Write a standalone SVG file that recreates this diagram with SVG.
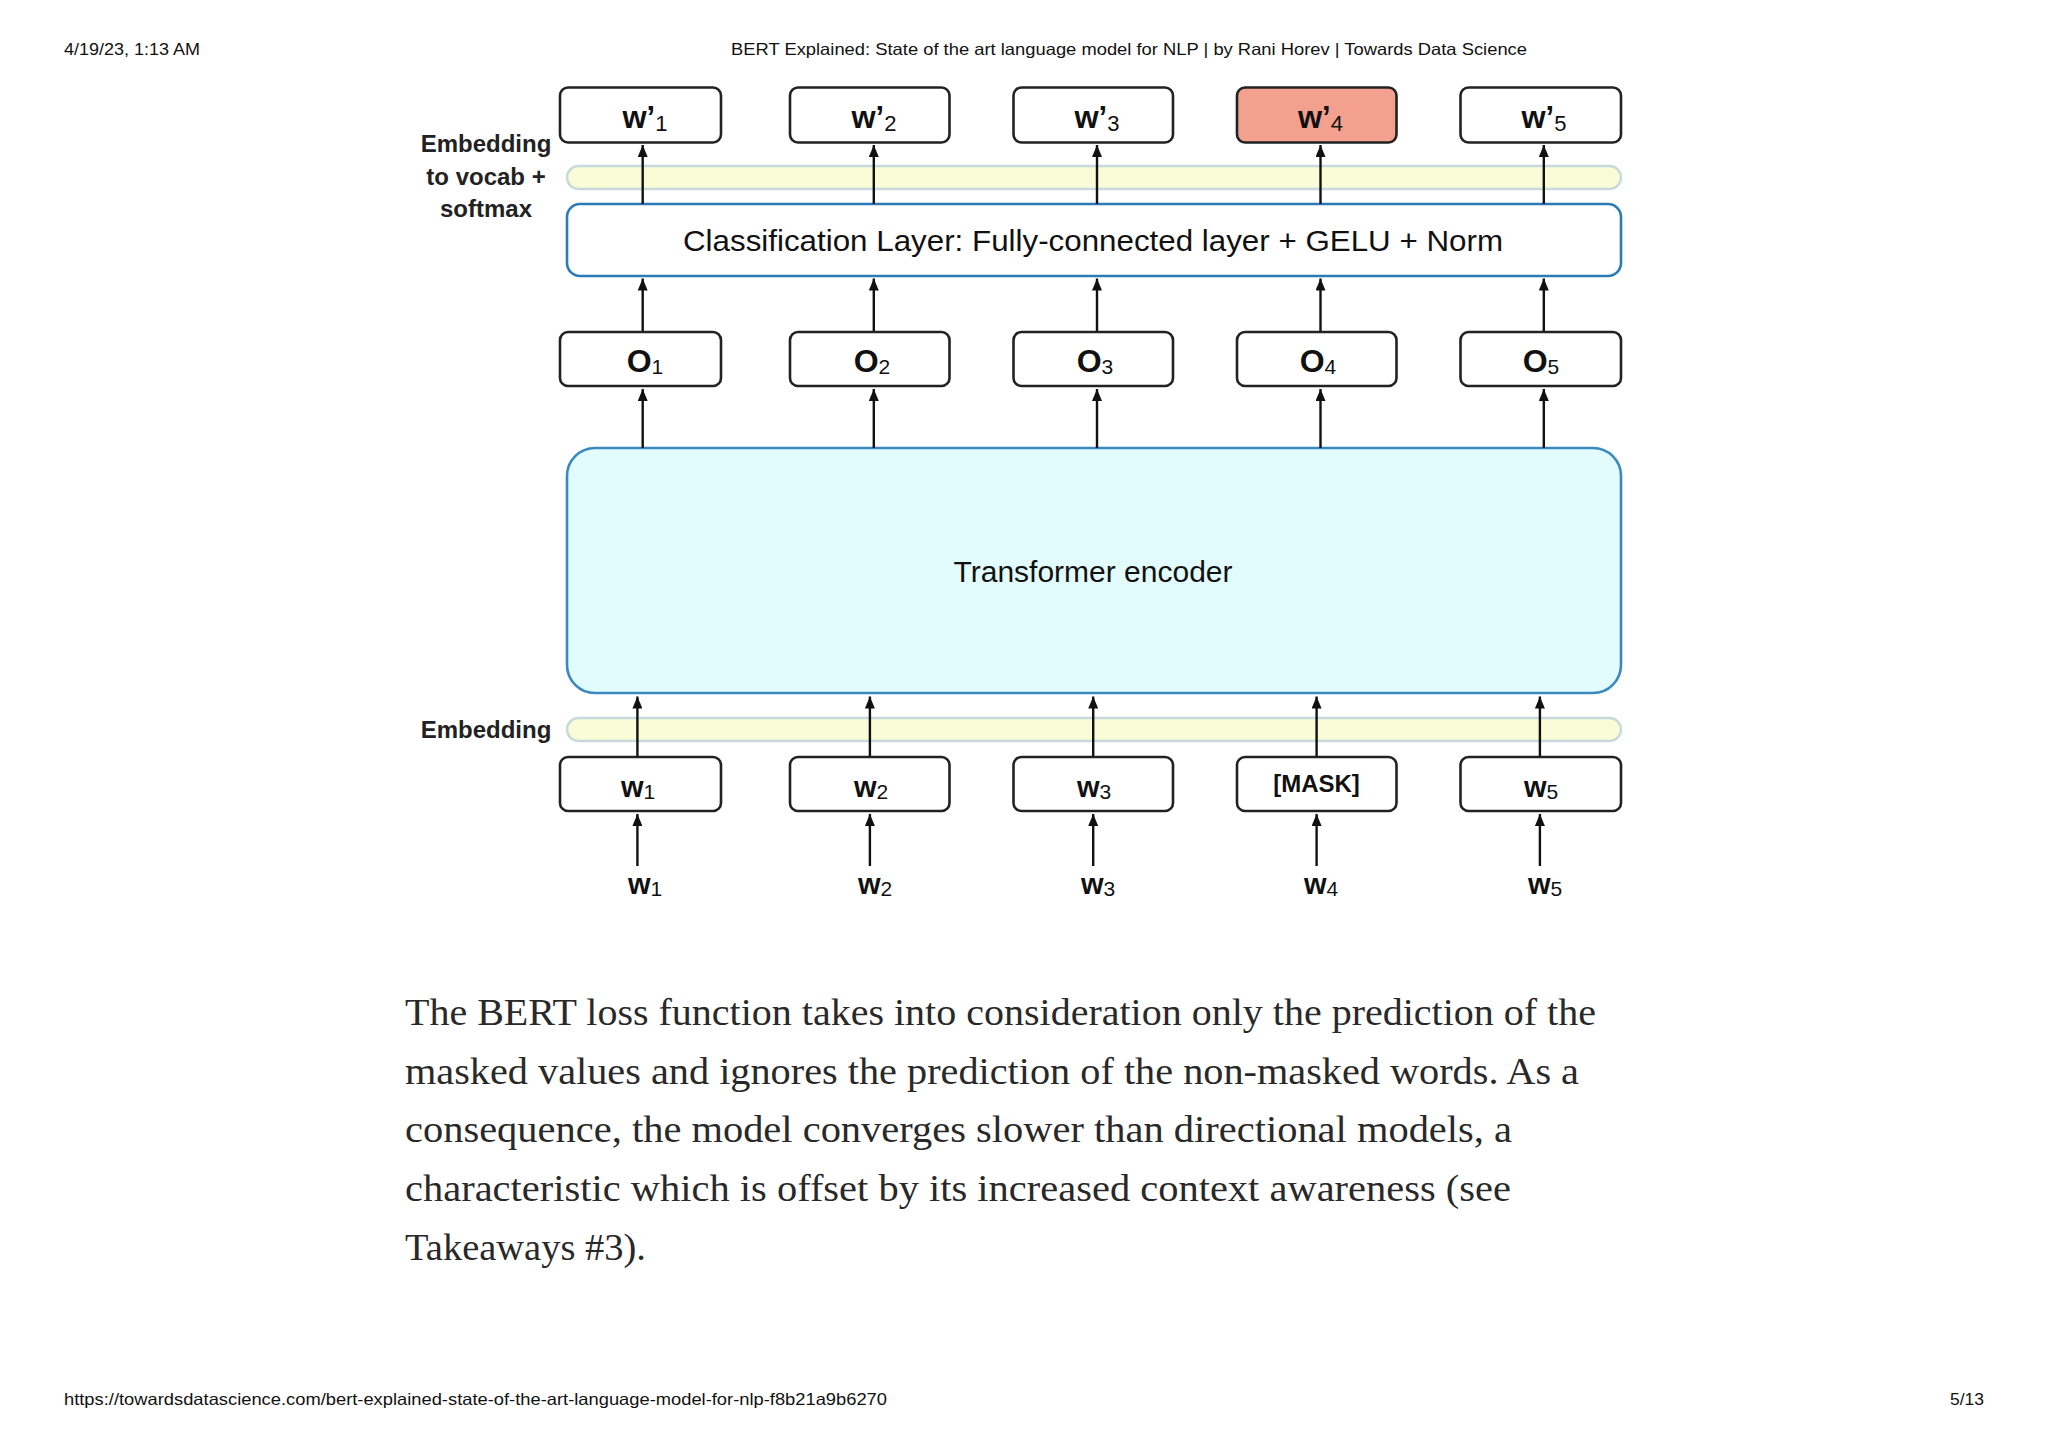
<svg xmlns="http://www.w3.org/2000/svg" width="2048" height="1447" viewBox="0 0 2048 1447">
<defs>
<style>
.hdr{font-family:"Liberation Sans",Arial,sans-serif;font-size:16.5px;fill:#111}
.box{fill:#fff;stroke:#222;stroke-width:2.6}
.lbl{font-family:"Liberation Sans",Arial,sans-serif;font-weight:bold;fill:#111;text-anchor:middle}
.sub{font-weight:normal}
.side{font-family:"Liberation Sans",Arial,sans-serif;font-weight:bold;font-size:24px;fill:#222;text-anchor:middle}
.bar{fill:#fafbd7;stroke:#c8dbdc;stroke-width:2.5}
.arr{stroke:#111;stroke-width:2.4;fill:none;marker-end:url(#ah)}
.para{font-family:"Liberation Serif","Times New Roman",serif;font-size:38.5px;fill:#292929}
</style>
<marker id="ah" viewBox="0 0 12 10" refX="12" refY="5" markerWidth="12" markerHeight="10" markerUnits="userSpaceOnUse" orient="auto">
<path d="M0,0 L12,5 L0,10 z" fill="#111"/>
</marker>
</defs>
<rect width="2048" height="1447" fill="#fff"/>

<g id="header">
<text class="hdr" x="64" y="54.5" textLength="136" lengthAdjust="spacingAndGlyphs">4/19/23, 1:13 AM</text>
<text class="hdr" x="731" y="54.5" textLength="796" lengthAdjust="spacingAndGlyphs">BERT Explained: State of the art language model for NLP | by Rani Horev | Towards Data Science</text>
</g>

<g id="bars">
<rect id="bar-top" class="bar" x="567" y="166" width="1054" height="23" rx="11.5"/>
<rect id="bar-emb" class="bar" x="567" y="718" width="1054" height="23" rx="11.5"/>
</g>

<g id="classification">
<rect x="567" y="204" width="1054" height="72" rx="13" fill="#fff" stroke="#2b7bb9" stroke-width="2.6"/>
<text x="1093" y="251" font-family="'Liberation Sans',Arial,sans-serif" font-size="30" fill="#111" text-anchor="middle" textLength="820" lengthAdjust="spacingAndGlyphs">Classification Layer: Fully-connected layer + GELU + Norm</text>
</g>

<g id="transformer">
<rect x="567" y="448" width="1054" height="245" rx="28" fill="#e2fbfc" stroke="#3a88c0" stroke-width="2.6"/>
<text x="1093" y="582" font-family="'Liberation Sans',Arial,sans-serif" font-size="30" fill="#111" text-anchor="middle">Transformer encoder</text>
</g>

<g id="labels-side">
<text class="side" x="486" y="152">Embedding</text>
<text class="side" x="486" y="185">to vocab +</text>
<text class="side" x="486" y="217">softmax</text>
<text class="side" x="486" y="738">Embedding</text>
</g>

<g id="connectors">
<line class="arr" x1="642.7" y1="204" x2="642.7" y2="145"/>
<line class="arr" x1="873.8" y1="204" x2="873.8" y2="145"/>
<line class="arr" x1="1097" y1="204" x2="1097" y2="145"/>
<line class="arr" x1="1320.5" y1="204" x2="1320.5" y2="145"/>
<line class="arr" x1="1543.8" y1="204" x2="1543.8" y2="145"/>

<line class="arr" x1="642.7" y1="332" x2="642.7" y2="278.5"/>
<line class="arr" x1="873.8" y1="332" x2="873.8" y2="278.5"/>
<line class="arr" x1="1097" y1="332" x2="1097" y2="278.5"/>
<line class="arr" x1="1320.5" y1="332" x2="1320.5" y2="278.5"/>
<line class="arr" x1="1543.8" y1="332" x2="1543.8" y2="278.5"/>

<line class="arr" x1="642.7" y1="448" x2="642.7" y2="389"/>
<line class="arr" x1="873.8" y1="448" x2="873.8" y2="389"/>
<line class="arr" x1="1097" y1="448" x2="1097" y2="389"/>
<line class="arr" x1="1320.5" y1="448" x2="1320.5" y2="389"/>
<line class="arr" x1="1543.8" y1="448" x2="1543.8" y2="389"/>

<line class="arr" x1="637.4" y1="757" x2="637.4" y2="696.5"/>
<line class="arr" x1="869.9" y1="757" x2="869.9" y2="696.5"/>
<line class="arr" x1="1093.2" y1="757" x2="1093.2" y2="696.5"/>
<line class="arr" x1="1316.6" y1="757" x2="1316.6" y2="696.5"/>
<line class="arr" x1="1539.9" y1="757" x2="1539.9" y2="696.5"/>

<line class="arr" x1="637.4" y1="866" x2="637.4" y2="814"/>
<line class="arr" x1="869.9" y1="866" x2="869.9" y2="814"/>
<line class="arr" x1="1093.2" y1="866" x2="1093.2" y2="814"/>
<line class="arr" x1="1316.6" y1="866" x2="1316.6" y2="814"/>
<line class="arr" x1="1539.9" y1="866" x2="1539.9" y2="814"/>
</g>

<g id="out1"><rect class="box" x="560" y="87.5" width="161" height="55" rx="8"/><text class="lbl" x="645" y="128" font-size="31">w’<tspan class="sub" font-size="22" dy="2.5">1</tspan></text></g>
<g id="out2"><rect class="box" x="790" y="87.5" width="159.5" height="55" rx="8"/><text class="lbl" x="874" y="128" font-size="31">w’<tspan class="sub" font-size="22" dy="2.5">2</tspan></text></g>
<g id="out3"><rect class="box" x="1013.5" y="87.5" width="159.5" height="55" rx="8"/><text class="lbl" x="1097" y="128" font-size="31">w’<tspan class="sub" font-size="22" dy="2.5">3</tspan></text></g>
<g id="out4"><rect class="box" x="1237" y="87.5" width="159.5" height="55" rx="8" style="fill:#f4a08f"/><text class="lbl" x="1320.5" y="128" font-size="31">w’<tspan class="sub" font-size="22" dy="2.5">4</tspan></text></g>
<g id="out5"><rect class="box" x="1460.5" y="87.5" width="160.5" height="55" rx="8"/><text class="lbl" x="1544" y="128" font-size="31">w’<tspan class="sub" font-size="22" dy="2.5">5</tspan></text></g>

<g id="o1"><rect class="box" x="560" y="332" width="161" height="54" rx="8"/><text class="lbl" x="645" y="372" font-size="32">O<tspan class="sub" font-size="21" dy="2">1</tspan></text></g>
<g id="o2"><rect class="box" x="790" y="332" width="159.5" height="54" rx="8"/><text class="lbl" x="872" y="372" font-size="32">O<tspan class="sub" font-size="21" dy="2">2</tspan></text></g>
<g id="o3"><rect class="box" x="1013.5" y="332" width="159.5" height="54" rx="8"/><text class="lbl" x="1095" y="372" font-size="32">O<tspan class="sub" font-size="21" dy="2">3</tspan></text></g>
<g id="o4"><rect class="box" x="1237" y="332" width="159.5" height="54" rx="8"/><text class="lbl" x="1318" y="372" font-size="32">O<tspan class="sub" font-size="21" dy="2">4</tspan></text></g>
<g id="o5"><rect class="box" x="1460.5" y="332" width="160.5" height="54" rx="8"/><text class="lbl" x="1541" y="372" font-size="32">O<tspan class="sub" font-size="21" dy="2">5</tspan></text></g>

<g id="in1"><rect class="box" x="560" y="757" width="161" height="54" rx="8"/><text class="lbl" x="638" y="797" font-size="29">w<tspan class="sub" font-size="21" dy="2">1</tspan></text></g>
<g id="in2"><rect class="box" x="790" y="757" width="159.5" height="54" rx="8"/><text class="lbl" x="871" y="797" font-size="29">w<tspan class="sub" font-size="21" dy="2">2</tspan></text></g>
<g id="in3"><rect class="box" x="1013.5" y="757" width="159.5" height="54" rx="8"/><text class="lbl" x="1094" y="797" font-size="29">w<tspan class="sub" font-size="21" dy="2">3</tspan></text></g>
<g id="in4"><rect class="box" x="1237" y="757" width="159.5" height="54" rx="8"/><text class="lbl" x="1316.5" y="792" font-size="24">[MASK]</text></g>
<g id="in5"><rect class="box" x="1460.5" y="757" width="160.5" height="54" rx="8"/><text class="lbl" x="1541" y="797" font-size="29">w<tspan class="sub" font-size="21" dy="2">5</tspan></text></g>

<g id="words">
<text class="lbl" x="645" y="894" font-size="29">w<tspan class="sub" font-size="21" dy="2">1</tspan></text>
<text class="lbl" x="875" y="894" font-size="29">w<tspan class="sub" font-size="21" dy="2">2</tspan></text>
<text class="lbl" x="1098" y="894" font-size="29">w<tspan class="sub" font-size="21" dy="2">3</tspan></text>
<text class="lbl" x="1321" y="894" font-size="29">w<tspan class="sub" font-size="21" dy="2">4</tspan></text>
<text class="lbl" x="1545" y="894" font-size="29">w<tspan class="sub" font-size="21" dy="2">5</tspan></text>
</g>

<g id="paragraph">
<text class="para" x="405" y="1025" textLength="1191" lengthAdjust="spacingAndGlyphs">The BERT loss function takes into consideration only the prediction of the</text>
<text class="para" x="405" y="1084" textLength="1174" lengthAdjust="spacingAndGlyphs">masked values and ignores the prediction of the non-masked words. As a</text>
<text class="para" x="405" y="1142" textLength="1107" lengthAdjust="spacingAndGlyphs">consequence, the model converges slower than directional models, a</text>
<text class="para" x="405" y="1201" textLength="1106" lengthAdjust="spacingAndGlyphs">characteristic which is offset by its increased context awareness (see</text>
<text class="para" x="405" y="1260" textLength="241" lengthAdjust="spacingAndGlyphs">Takeaways #3).</text>
</g>

<g id="footer">
<text class="hdr" x="64" y="1405" textLength="823" lengthAdjust="spacingAndGlyphs">https://towardsdatascience.com/bert-explained-state-of-the-art-language-model-for-nlp-f8b21a9b6270</text>
<text class="hdr" x="1950" y="1405" textLength="34" lengthAdjust="spacingAndGlyphs">5/13</text>
</g>
</svg>
